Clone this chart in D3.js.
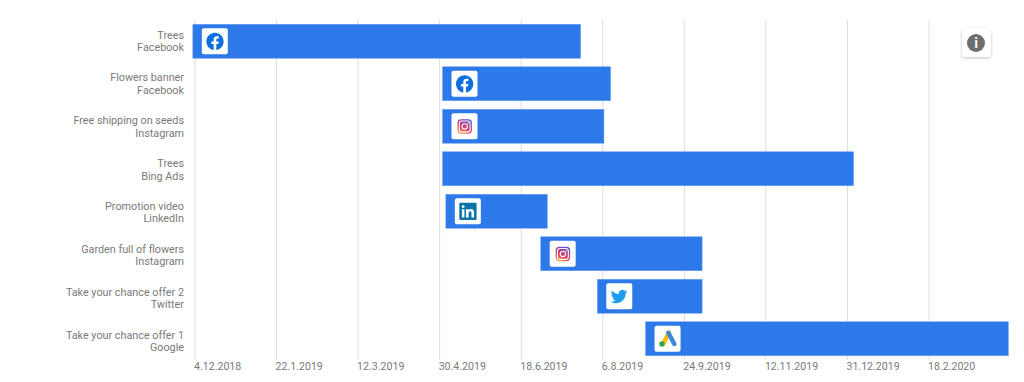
<!DOCTYPE html>
<html>
<head>
<meta charset="utf-8">
<script src="https://cdn.jsdelivr.net/npm/d3@7"></script>
<style>
  html, body { margin: 0; padding: 0; background: #fff; overflow: hidden; }
  text { font-family: Roboto, sans-serif; }
</style>
</head>
<body>
<div id="chart"></div>
<script>

const campaigns = ["Trees", "Flowers banner", "Free shipping on seeds", "Trees", "Promotion video", "Garden full of flowers", "Take your chance offer 2", "Take your chance offer 1"]

const platforms = ["Facebook", "Facebook", "Instagram", "Bing Ads", "LinkedIn", "Instagram", "Twitter", "Google"]

const startDates = ["2018-12-03", "2019-05-02", "2019-05-02", "2019-05-02", "2019-05-04", "2019-06-30", "2019-08-03", "2019-09-01"]

const endDates = ["2019-07-24", "2019-08-11", "2019-08-07", "2020-01-04", "2019-07-04", "2019-10-05", "2019-10-05", "2020-04-06"]

const tickDates = ["2018-12-04", "2019-01-22", "2019-03-12", "2019-04-30", "2019-06-18", "2019-08-06", "2019-09-24", "2019-11-12", "2019-12-31", "2020-02-18"]

const chartWidth = 1024
const chartHeight = 382
const plotTop = 20
const plotBottom = 360

const parseDate = d3.utcParse("%Y-%m-%d")
const formatDate = d3.utcFormat("%-d.%-m.%Y")

const rows = campaigns.map((name, i) => ({
    name: name,
    platform: platforms[i],
    start: parseDate(startDates[i]),
    end: parseDate(endDates[i])
}))

const svg = d3.select("#chart").append("svg")
    .attr("width", chartWidth)
    .attr("height", chartHeight)

const defs = svg.append("defs")

const shadow = defs.append("filter")
    .attr("id", "btnShadow")
    .attr("x", "-30%").attr("y", "-30%")
    .attr("width", "160%").attr("height", "160%")

shadow.append("feDropShadow")
    .attr("dx", 0).attr("dy", 1)
    .attr("stdDeviation", 1.5)
    .attr("flood-color", "#000")
    .attr("flood-opacity", 0.25)

const instaGradient = defs.append("linearGradient")
    .attr("id", "insta")
    .attr("x1", "10%").attr("y1", "100%")
    .attr("x2", "60%").attr("y2", "0%")

instaGradient.append("stop").attr("offset", "0%").attr("stop-color", "#fdb043")
instaGradient.append("stop").attr("offset", "40%").attr("stop-color", "#e4405f")
instaGradient.append("stop").attr("offset", "75%").attr("stop-color", "#a2429a")
instaGradient.append("stop").attr("offset", "100%").attr("stop-color", "#5b51c4")

const x = d3.scaleUtc()
    .domain([parseDate(tickDates[0]), parseDate(tickDates[tickDates.length - 1])])
    .range([194.5, 928.5])

const y = d3.scaleBand()
    .domain(d3.range(rows.length))
    .range([plotTop, plotBottom])
    .paddingInner(0.2)
    .paddingOuter(0.1)

/* the labels sit on a slightly wider spacing than the bars in the original */

const labelY = d3.scalePoint()
    .domain(d3.range(rows.length))
    .range([41, 341])

/* date axis, the ticks double as the vertical grid */

const xAxis = d3.axisBottom(x)
    .tickValues(tickDates.map(parseDate))
    .tickFormat(formatDate)
    .tickSize(-(plotBottom - plotTop))
    .tickPadding(0)

const axisG = svg.append("g")
    .attr("transform", `translate(0,${plotBottom})`)
    .call(xAxis)

axisG.select(".domain").remove()

axisG.selectAll(".tick line")
    .attr("stroke", "#dcdcdc")

axisG.selectAll(".tick text")
    .attr("text-anchor", "start")
    .attr("x", -1)
    .attr("y", 2)
    .attr("dy", "0.71em")
    .attr("fill", "#7a7a7a")
    .style("font-size", "10.6px")

/* two line labels on the left */

const labels = svg.append("g").selectAll("text")
    .data(rows)
    .join("text")
    .attr("text-anchor", "end")
    .attr("fill", "#7a7a7a")
    .style("font-size", "10.8px")

labels.append("tspan")
    .attr("x", 184)
    .attr("y", (d, i) => labelY(i) - 2.5)
    .text(d => d.name)

labels.append("tspan")
    .attr("x", 184)
    .attr("y", (d, i) => labelY(i) + 10)
    .text(d => d.platform)

/* bars */

svg.append("g").selectAll("rect")
    .data(rows)
    .join("rect")
    .attr("x", d => x(d.start))
    .attr("y", (d, i) => y(i))
    .attr("width", d => x(d.end) - x(d.start))
    .attr("height", y.bandwidth())
    .attr("fill", "#2e79ea")
    .attr("stroke", "#6fa3f1")
    .attr("stroke-width", 0.5)

/* platform logos, each one drawn in a 24x24 box */

const logos = {

    Facebook: g => {
        g.attr("transform", "scale(0.72)")
        g.append("path").attr("fill", "#0f6fde")
            .attr("d", "M24 12.073c0-6.627-5.373-12-12-12s-12 5.373-12 12c0 5.99 4.388 10.954 10.125 11.854v-8.385H7.078v-3.47h3.047V9.43c0-3.007 1.792-4.669 4.533-4.669 1.312 0 2.686.235 2.686.235v2.953H15.83c-1.491 0-1.956.925-1.956 1.874v2.25h3.328l-.532 3.47h-2.796v8.385C19.612 23.027 24 18.062 24 12.073z")
    },

    Instagram: g => {
        g.attr("transform", "translate(1.5,1.5) scale(0.6)")
        g.append("rect").attr("width", 24).attr("height", 24).attr("rx", 6).attr("fill", "url(#insta)")
        g.append("rect").attr("x", 3).attr("y", 3).attr("width", 18).attr("height", 18).attr("rx", 4)
            .attr("fill", "none").attr("stroke", "#fff").attr("stroke-width", 1.8)
        g.append("circle").attr("cx", 12).attr("cy", 12).attr("r", 4.4)
            .attr("fill", "none").attr("stroke", "#fff").attr("stroke-width", 1.8)
        g.append("circle").attr("cx", 17.5).attr("cy", 6.5).attr("r", 1.2).attr("fill", "#fff")
    },

    LinkedIn: g => {
        g.attr("transform", "scale(0.72)")
        g.append("path").attr("fill", "#0a73a8")
            .attr("d", "M20.447 20.452h-3.554v-5.569c0-1.328-.027-3.037-1.852-3.037-1.853 0-2.136 1.445-2.136 2.939v5.667H9.351V9h3.414v1.561h.046c.477-.9 1.637-1.85 3.37-1.85 3.601 0 4.267 2.37 4.267 5.455v6.286zM5.337 7.433c-1.144 0-2.063-.926-2.063-2.065 0-1.138.92-2.063 2.063-2.063 1.14 0 2.064.925 2.064 2.063 0 1.139-.925 2.065-2.064 2.065zm1.782 13.019H3.555V9h3.564v11.452zM22.225 0H1.771C.792 0 0 .774 0 1.729v20.542C0 23.227.792 24 1.771 24h20.451C23.2 24 24 23.227 24 22.271V1.729C24 .774 23.2 0 22.222 0h.003z")
    },

    Twitter: g => {
        g.attr("transform", "translate(0,0.5) scale(0.69)")
        g.append("path").attr("fill", "#1d9bf0")
            .attr("d", "M23.953 4.57a10 10 0 01-2.825.775 4.958 4.958 0 002.163-2.723c-.951.555-2.005.959-3.127 1.184a4.92 4.92 0 00-8.384 4.482C7.69 8.095 4.067 6.13 1.64 3.162a4.822 4.822 0 00-.666 2.475c0 1.71.87 3.213 2.188 4.096a4.904 4.904 0 01-2.228-.616v.06a4.923 4.923 0 003.946 4.827 4.996 4.996 0 01-2.212.085 4.936 4.936 0 004.604 3.417 9.867 9.867 0 01-6.102 2.105c-.39 0-.779-.023-1.17-.067a13.995 13.995 0 007.557 2.209c9.053 0 13.998-7.496 13.998-13.985 0-.21 0-.42-.015-.63A9.935 9.935 0 0024 4.59z")
    },

    Google: g => {
        g.attr("transform", "translate(-0.5,-0.5) scale(0.75)")
        g.append("line").attr("x1", 14).attr("y1", 4).attr("x2", 6).attr("y2", 19)
            .attr("stroke", "#fbbc04").attr("stroke-width", 6).attr("stroke-linecap", "round")
        g.append("line").attr("x1", 13).attr("y1", 4).attr("x2", 21).attr("y2", 19)
            .attr("stroke", "#3f86d8").attr("stroke-width", 6).attr("stroke-linecap", "round")
        g.append("circle").attr("cx", 4.5).attr("cy", 19).attr("r", 3.6).attr("fill", "#2fa84f")
    }

}

const iconGroups = svg.append("g").selectAll("g")
    .data(rows.filter(d => logos[d.platform]))
    .join("g")
    .attr("transform", d => `translate(${x(d.start) + 9},${y(rows.indexOf(d)) + y.bandwidth() / 2 - 13})`)

iconGroups.append("rect")
    .attr("width", 26)
    .attr("height", 26)
    .attr("rx", 2)
    .attr("fill", "#fff")

iconGroups.append("g")
    .attr("transform", "translate(4.5,4.5)")
    .append("g")
    .each(function(d) { logos[d.platform](d3.select(this)) })

/* info button top right */

const info = svg.append("g")
    .attr("transform", "translate(962,28)")

info.append("rect")
    .attr("width", 29)
    .attr("height", 29)
    .attr("rx", 4)
    .attr("fill", "#fff")
    .attr("filter", "url(#btnShadow)")

info.append("circle")
    .attr("cx", 14)
    .attr("cy", 15)
    .attr("r", 9)
    .attr("fill", "#6e6e6e")

info.append("text")
    .attr("x", 14)
    .attr("y", 20)
    .attr("text-anchor", "middle")
    .attr("fill", "#fff")
    .style("font-size", "14px")
    .style("font-weight", "700")
    .text("i")

</script>
</body>
</html>
